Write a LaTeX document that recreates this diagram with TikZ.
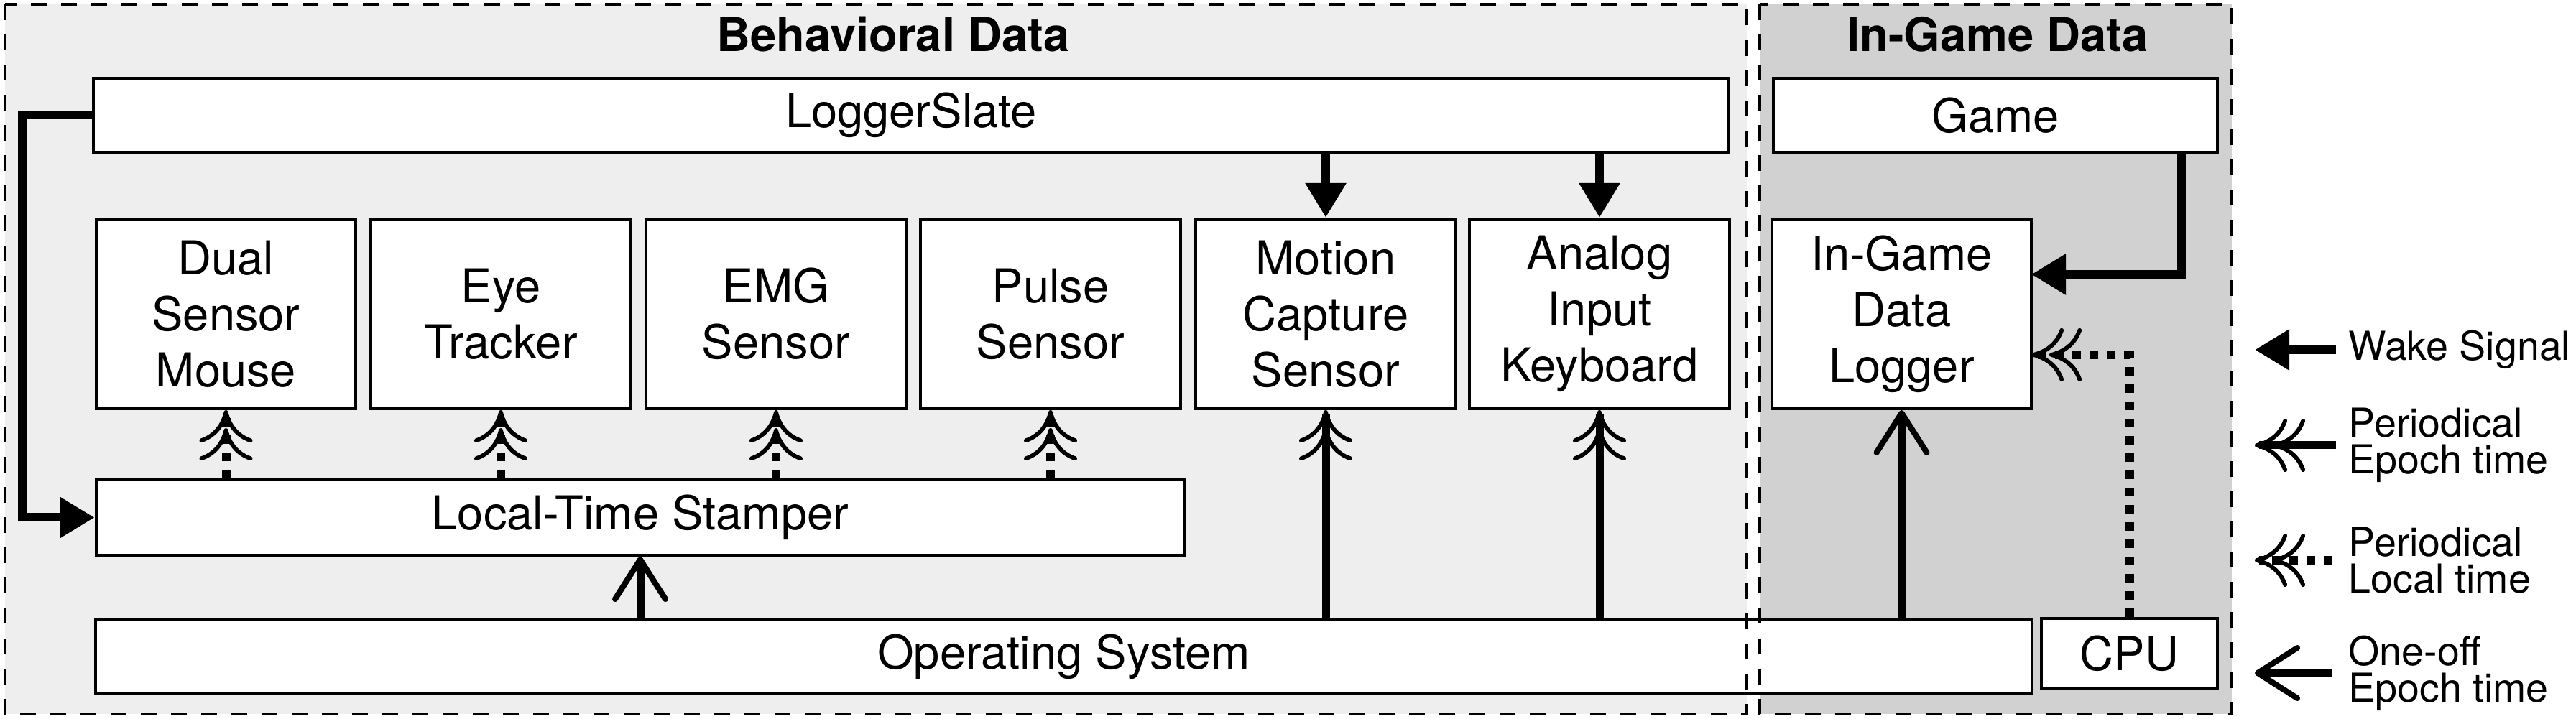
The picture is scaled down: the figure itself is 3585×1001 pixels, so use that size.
\documentclass[tikz,border=0pt]{standalone}
\usepackage{fontspec}
\setmainfont{TeX Gyre Heros}
\usetikzlibrary{arrows.meta}
\definecolor{bgBeh}{RGB}{238,238,238}
\definecolor{bgGame}{RGB}{209,209,209}
\begin{document}
\begin{tikzpicture}[x=0.01cm,y=-0.01cm,
  box/.style={draw, line width=0.04cm, fill=white, inner sep=0pt, align=center,
    font=\fontsize{18.5pt}{22.2pt}\selectfont},
  sensorbox/.style={box, minimum width=3.61cm, minimum height=2.64cm},
  titletext/.style={inner sep=0pt, font=\fontsize{18.5pt}{22.2pt}\selectfont\bfseries},
  legendtext/.style={inner sep=0pt, align=left, anchor=west,
    font=\fontsize{15.8pt}{14.4pt}\selectfont},
  framebox/.style={line width=0.045cm, dash pattern=on 0.22cm off 0.2cm},
  chev/.tip={Computer Modern Rightarrow[length=0.45cm,width=0.74cm,line width=0.058cm]},
  wake/.style={line width=0.12cm, line join=miter, -{Triangle[length=0.48cm,width=0.54cm]}},
  pepoch/.style={line width=0.11cm, -{chev[sep=-0.2cm]chev}},
  plocal/.style={line width=0.12cm, dash pattern=on 0.12cm off 0.12cm, -{chev[sep=-0.2cm]chev}},
  oneoff/.style={line width=0.11cm, -{Straight Barb[length=0.55cm,width=0.70cm,line width=0.08cm,round]}}
]
\useasboundingbox (0,0) rectangle (3585,1001);
% frame fills
\fill[bgBeh] (7,6) rectangle (2431,994);
\fill[bgGame] (2449,6) rectangle (3106,994);
% titles
\node[titletext] (tbeh) at (1243,48) {Behavioral Data};
\node[titletext] (tgame) at (2780,48) {In-Game Data};
% boxes
\node[box, minimum width=22.74cm, minimum height=1.03cm] (logger) at (1268,160.5) {LoggerSlate};
\node[box, minimum width=6.18cm, minimum height=1.03cm] (game) at (2777,160.5) {Game};
\node[sensorbox] (dual) at (314.5,437) {Dual\\Sensor\\Mouse};
\node[sensorbox] (eye) at (697,437) {Eye\\Tracker};
\node[sensorbox] (emg) at (1080,437) {EMG\\Sensor};
\node[sensorbox] (pulse) at (1462,437) {Pulse\\Sensor};
\node[sensorbox] (motion) at (1845,437) {Motion\\Capture\\Sensor};
\node[sensorbox] (analog) at (2226,437) {Analog\\Input\\Keyboard};
\node[sensorbox] (igl) at (2646.5,437) {In-Game\\Data\\Logger};
\node[box, minimum width=15.14cm, minimum height=1.05cm] (local) at (891,720.5) {Local-Time Stamper};
\node[box, minimum width=26.93cm, minimum height=1.03cm] (os) at (1480.5,914.5) {Operating System};
\node[box, minimum width=2.45cm, minimum height=0.97cm] (cpu) at (2963.5,909.5) {CPU};
% wake signals
\draw[wake] (logger.west) -- ++(-97,0) |- (local.west);
\draw[wake] (logger.south -| motion.north) -- (motion.north);
\draw[wake] (logger.south -| analog.north) -- (analog.north);
\coordinate (gameout) at (3036,212);
\coordinate (gamein) at (2827,382);
\draw[wake] (gameout) |- (gamein);
% one-off epoch time
\draw[oneoff] (os.north -| local.south) -- (local.south);
\draw[oneoff] (os.north -| igl.south) -- (igl.south);
% periodical epoch time
\draw[pepoch] (os.north -| motion.south) -- (motion.south);
\draw[pepoch] (os.north -| analog.south) -- (analog.south);
% periodical local time
\draw[plocal] (local.north -| dual.south) -- (dual.south);
\draw[plocal] (local.north -| eye.south) -- (eye.south);
\draw[plocal] (local.north -| emg.south) -- (emg.south);
\draw[plocal] (local.north -| pulse.south) -- (pulse.south);
\coordinate (cpuin) at (2827,494);
\draw[plocal] (cpu.north) |- (cpuin);
% frame outlines on top
\draw[framebox] (7,6) rectangle (2431,994);
\draw[framebox] (2449,6) rectangle (3106,994);
% legend
\node[legendtext] (lgw) at (3268,487) {Wake Signal};
\node[legendtext] (lgp) at (3268,620) {Periodical\\Epoch time};
\node[legendtext] (lgl) at (3268,780) {Periodical\\Local time};
\node[legendtext] (lgo) at (3268,937) {One-off\\Epoch time};
\coordinate (lw1) at (3251,487); \coordinate (lw2) at (3138,487);
\coordinate (lp1) at (3251,620); \coordinate (lp2) at (3138,620);
\coordinate (ll1) at (3246,780); \coordinate (ll2) at (3138,780);
\coordinate (lo1) at (3246,937); \coordinate (lo2) at (3138,937);
\draw[wake] (lw1) -- (lw2);
\draw[pepoch] (lp1) -- (lp2);
\draw[plocal] (ll1) -- (ll2);
\draw[oneoff] (lo1) -- (lo2);
\end{tikzpicture}
\end{document}
